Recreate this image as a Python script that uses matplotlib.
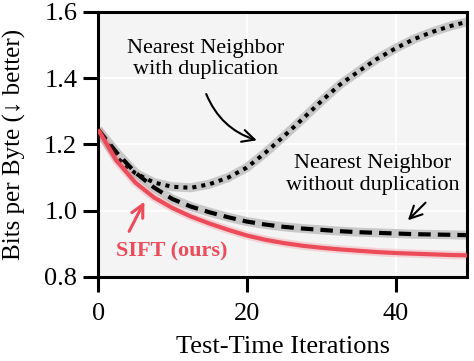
import matplotlib
matplotlib.use('Agg')
import matplotlib.pyplot as plt

plt.rcParams['font.family'] = ['Liberation Serif', 'DejaVu Serif']
plt.rcParams['mathtext.fontset'] = 'stix'

# Values
iterations = [0, 2.5, 5, 7.5, 10, 12.5, 15, 17.5, 20, 22.5, 25,
              27.5, 30, 32.5, 35, 37.5, 40, 42.5, 45, 47.5, 50]
nn_dup = [1.245, 1.16, 1.113, 1.085, 1.072, 1.069, 1.08, 1.10, 1.13, 1.175, 1.225,
          1.277, 1.33, 1.38, 1.42, 1.458, 1.49, 1.518, 1.54, 1.558, 1.572]
nn_nodup = [1.245, 1.175, 1.115, 1.07, 1.035, 1.012, 0.995, 0.98, 0.967, 0.958, 0.951,
            0.946, 0.942, 0.938, 0.935, 0.933, 0.931, 0.929, 0.928, 0.927, 0.926]
sift = [1.245, 1.15, 1.085, 1.04, 1.008, 0.982, 0.961, 0.942, 0.925, 0.912, 0.902,
        0.894, 0.888, 0.883, 0.879, 0.875, 0.872, 0.870, 0.868, 0.866, 0.865]

red = '#ec4b5a'

fig = plt.figure(figsize=(4.74, 3.61), dpi=100)
ax = fig.add_axes([0.207, 0.233, 0.778, 0.734])
ax.set_facecolor('#f4f4f4')
ax.grid(True, color='white', linewidth=1.2)
ax.set_axisbelow(True)

# gray bands under the baselines
ax.plot(iterations, nn_dup, color='#c8c8c8', lw=6.5, solid_capstyle='butt', zorder=2)
ax.plot(iterations, nn_nodup, color='#c8c8c8', lw=6.5, solid_capstyle='butt', zorder=2)
ax.plot(iterations, nn_dup, color='black', lw=2.9, linestyle=(0, (1, 1.25)), zorder=3)
ax.plot(iterations, nn_nodup, color='black', lw=3.0, linestyle=(0, (3, 1.7)), zorder=3)

# SIFT with a light halo
ax.plot(iterations, sift, color=red, lw=6, alpha=0.2, solid_capstyle='butt', zorder=4)
ax.plot(iterations, sift, color=red, lw=3, solid_capstyle='butt', zorder=5)

ax.set_xlim(0, 49.6)
ax.set_ylim(0.8, 1.6)
ax.set_xticks([0, 20, 40])
ax.set_yticks([0.8, 1.0, 1.2, 1.4, 1.6])
ax.set_yticklabels(['0.8', '1.0', '1.2', '1.4', '1.6'])
ax.tick_params(direction='out', length=11, width=2.2, labelsize=19, pad=4)
ax.tick_params(axis='x', pad=8)
for s in ax.spines.values():
    s.set_linewidth(2.2)

ax.set_xlabel('Test-Time Iterations', fontsize=19, labelpad=8)
ax.set_ylabel('Bits per Byte (↓ better)', fontsize=18)
ax.yaxis.set_label_coords(-0.195, 0.5)

ax.text(14.4, 1.458, 'Nearest Neighbor\nwith duplication', fontsize=16,
        ha='center', va='center', linespacing=1.15)
ax.annotate('', xy=(21.7, 1.21), xytext=(14.4, 1.36),
            arrowprops=dict(arrowstyle='->', lw=1.5, color='black',
                            connectionstyle='arc3,rad=0.25', mutation_scale=22))

ax.text(36.9, 1.109, 'Nearest Neighbor\nwithout duplication', fontsize=16,
        ha='center', va='center', linespacing=1.15)
ax.annotate('', xy=(41.4, 0.965), xytext=(44.3, 1.03),
            arrowprops=dict(arrowstyle='->', lw=1.5, color='black', mutation_scale=22))

ax.text(9.9, 0.876, 'SIFT (ours)', fontsize=16, color=red, fontweight='bold',
        ha='center', va='center')
ax.annotate('', xy=(6.4, 1.035), xytext=(4.0, 0.93),
            arrowprops=dict(arrowstyle='->', lw=2.2, color=red, mutation_scale=22))

fig.savefig('out.png', dpi=100)
